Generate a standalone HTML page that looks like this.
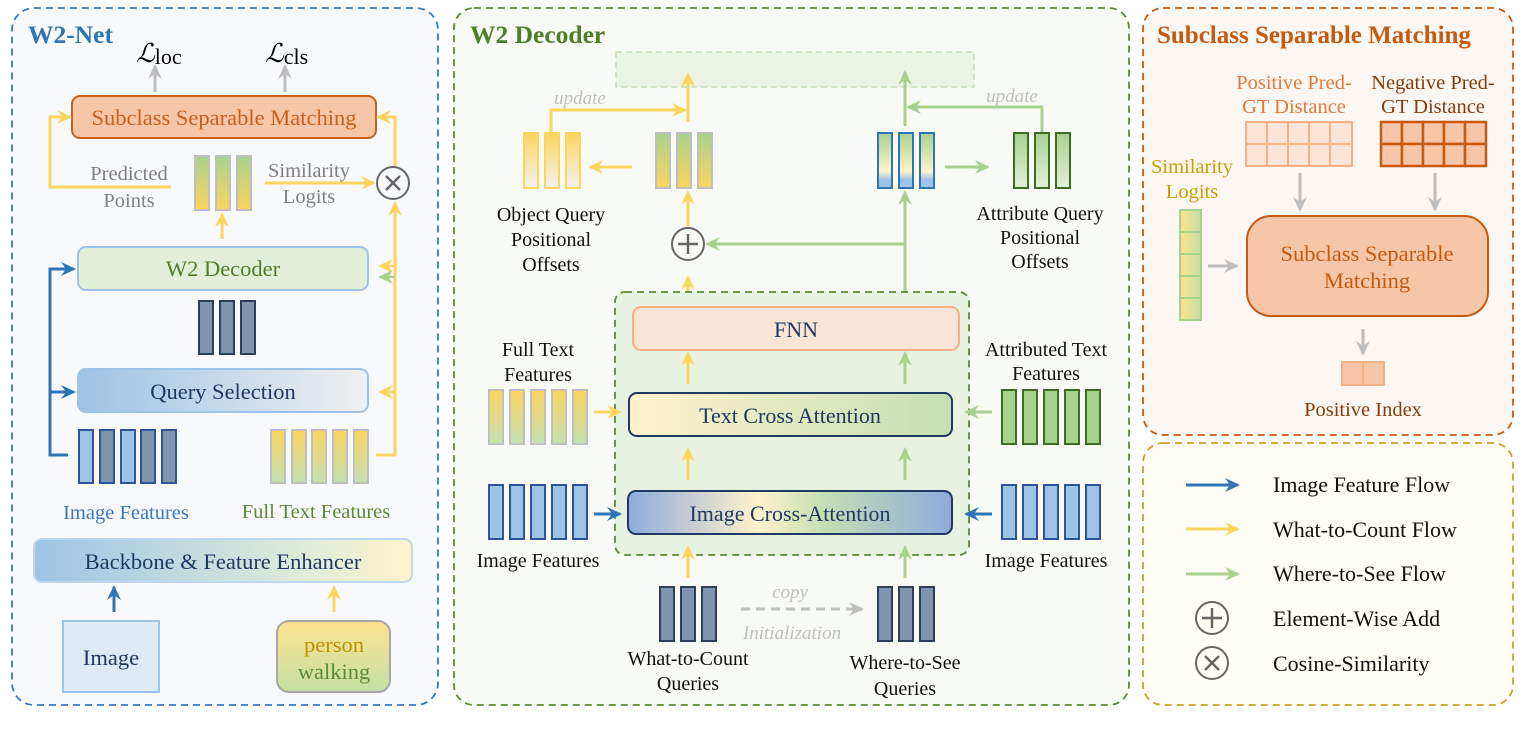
<!DOCTYPE html>
<html><head><meta charset="utf-8"><style>
html,body{margin:0;padding:0;background:#fff;}
svg{display:block;}
text{font-family:"Liberation Serif",serif;}
</style></head><body>
<svg width="1524" height="738" viewBox="0 0 1524 738" xmlns="http://www.w3.org/2000/svg">
<defs>
<marker id="mY" markerUnits="userSpaceOnUse" markerWidth="16" markerHeight="16" refX="13" refY="8" orient="auto"><path d="M0,1 L15,8 L0,15 L5,8 z" fill="#fcd55e"/></marker>
<marker id="mG" markerUnits="userSpaceOnUse" markerWidth="16" markerHeight="16" refX="13" refY="8" orient="auto"><path d="M0,1 L15,8 L0,15 L5,8 z" fill="#a9d18e"/></marker>
<marker id="mB" markerUnits="userSpaceOnUse" markerWidth="16" markerHeight="16" refX="13" refY="8" orient="auto"><path d="M0,1 L15,8 L0,15 L5,8 z" fill="#2e75b6"/></marker>
<marker id="mS" markerUnits="userSpaceOnUse" markerWidth="16" markerHeight="16" refX="13" refY="8" orient="auto"><path d="M0,1 L15,8 L0,15 L5,8 z" fill="#bdbdbd"/></marker>
<linearGradient id="gGY" x1="0" y1="0" x2="0" y2="1"><stop offset="0" stop-color="#a9d18e"/><stop offset="1" stop-color="#fcd55e"/></linearGradient>
<linearGradient id="gYG" x1="0" y1="0" x2="0" y2="1"><stop offset="0" stop-color="#fcd55e"/><stop offset="1" stop-color="#c5e0b3"/></linearGradient>
<linearGradient id="gYW" x1="0" y1="0" x2="0" y2="1"><stop offset="0" stop-color="#fcd55e"/><stop offset="1" stop-color="#f2f2f2"/></linearGradient>
<linearGradient id="gGW" x1="0" y1="0" x2="0" y2="1"><stop offset="0" stop-color="#a9d18e"/><stop offset="1" stop-color="#e2efd9"/></linearGradient>
<linearGradient id="gGYB" x1="0" y1="0" x2="0" y2="1"><stop offset="0" stop-color="#a9d18e"/><stop offset="0.7" stop-color="#fff2cc"/><stop offset="0.85" stop-color="#9dc3e6"/><stop offset="1" stop-color="#9dc3e6"/></linearGradient>
<linearGradient id="gQS" x1="0" y1="0" x2="1" y2="0"><stop offset="0" stop-color="#9dc3e6"/><stop offset="1" stop-color="#f0f0f0"/></linearGradient>
<linearGradient id="gBB" x1="0" y1="0" x2="1" y2="0"><stop offset="0" stop-color="#9dc3e6"/><stop offset="0.75" stop-color="#e2efd9"/><stop offset="1" stop-color="#fff2cc"/></linearGradient>
<linearGradient id="gPW" x1="0" y1="0" x2="0" y2="1"><stop offset="0" stop-color="#fde28e"/><stop offset="1" stop-color="#c5e0a5"/></linearGradient>
<linearGradient id="gTCA" x1="0" y1="0" x2="1" y2="0"><stop offset="0" stop-color="#fff2cc"/><stop offset="1" stop-color="#c5e0b3"/></linearGradient>
<linearGradient id="gICA" x1="0" y1="0" x2="1" y2="0"><stop offset="0" stop-color="#8faadc"/><stop offset="0.4" stop-color="#fff2cc"/><stop offset="0.6" stop-color="#c5e0b3"/><stop offset="1" stop-color="#8faadc"/></linearGradient>
<linearGradient id="gSL" x1="0" y1="0" x2="1" y2="0"><stop offset="0" stop-color="#fde28e"/><stop offset="1" stop-color="#c5e0a5"/></linearGradient>
</defs>

<!-- LEFT PANEL -->
<rect x="12" y="8" width="426" height="697" rx="22" fill="#f7f9fd" stroke="#3a78c0" stroke-width="1.8" stroke-dasharray="7,5"/>
<text x="28" y="43" font-size="25.5" font-weight="bold" fill="#2e75b6">W2-Net</text>
<text x="136" y="62" font-size="26" fill="#000" font-style="italic">ℒ<tspan font-size="22" font-style="normal" dy="2">loc</tspan></text>
<text x="265" y="62" font-size="26" fill="#000" font-style="italic">ℒ<tspan font-size="22" font-style="normal" dy="2">cls</tspan></text>
<line x1="155" y1="92" x2="155" y2="66" stroke="#bdbdbd" stroke-width="3" marker-end="url(#mS)"/>
<line x1="285" y1="92" x2="285" y2="66" stroke="#bdbdbd" stroke-width="3" marker-end="url(#mS)"/>
<rect x="72" y="96" width="304" height="42" rx="8" fill="#f7c6a8" stroke="#c8601f" stroke-width="2"/>
<text x="224" y="125" font-size="22.5" fill="#c8601f" text-anchor="middle">Subclass Separable Matching</text>
<polyline points="171,187 50,187 50,117 70,117" fill="none" stroke="#fcd55e" stroke-width="3" marker-end="url(#mY)"/>
<polyline points="395,167 395,117 378,117" fill="none" stroke="#fcd55e" stroke-width="3" marker-end="url(#mY)"/>
<text x="129" y="180" font-size="20.5" fill="#808080" text-anchor="middle">Predicted</text>
<text x="129" y="207" font-size="20.5" fill="#808080" text-anchor="middle">Points</text>
<g stroke="#bfbfbf" stroke-width="2" fill="url(#gGY)"><rect x="195" y="156" width="14" height="54"/><rect x="216" y="156" width="14" height="54"/><rect x="237" y="156" width="14" height="54"/></g>
<text x="309" y="177" font-size="20.5" fill="#808080" text-anchor="middle">Similarity</text>
<text x="309" y="203" font-size="20.5" fill="#808080" text-anchor="middle">Logits</text>
<line x1="265" y1="183" x2="374" y2="183" stroke="#fcd55e" stroke-width="3" marker-end="url(#mY)"/>
<circle cx="393" cy="183" r="16" fill="none" stroke="#666" stroke-width="2"/>
<path d="M386,176 L400,190 M400,176 L386,190" stroke="#666" stroke-width="2.5"/>
<line x1="222" y1="239" x2="222" y2="214" stroke="#fcd55e" stroke-width="3" marker-end="url(#mY)"/>
<line x1="395" y1="455" x2="395" y2="203" stroke="#fcd55e" stroke-width="3" marker-end="url(#mY)"/>
<rect x="78" y="247" width="290" height="43" rx="8" fill="#e2efd9" stroke="#9dc3e6" stroke-width="2"/>
<text x="223" y="276" font-size="22.5" fill="#4e7e2a" text-anchor="middle">W2 Decoder</text>
<line x1="395" y1="266" x2="380" y2="266" stroke="#fcd55e" stroke-width="2.5" marker-end="url(#mY)"/>
<line x1="395" y1="277" x2="380" y2="277" stroke="#a9d18e" stroke-width="2.5" marker-end="url(#mG)"/>
<polyline points="68,455 50,455 50,269 74,269" fill="none" stroke="#2e75b6" stroke-width="3" marker-end="url(#mB)"/>
<line x1="50" y1="392" x2="74" y2="392" stroke="#2e75b6" stroke-width="3" marker-end="url(#mB)"/>
<g stroke="#2d3e5a" stroke-width="2" fill="#8094ae"><rect x="199" y="301" width="14" height="53"/><rect x="220" y="301" width="14" height="53"/><rect x="241" y="301" width="14" height="53"/></g>
<rect x="78" y="369" width="290" height="43" rx="8" fill="url(#gQS)" stroke="#9dc3e6" stroke-width="2"/>
<text x="223" y="399" font-size="22.5" fill="#1f3864" text-anchor="middle">Query Selection</text>
<line x1="395" y1="392" x2="380" y2="392" stroke="#fcd55e" stroke-width="2.5" marker-end="url(#mY)"/>
<g stroke="#2e5597" stroke-width="2"><rect x="79" y="430" width="14" height="53" fill="#9dc3e6"/><rect x="100" y="430" width="14" height="53" fill="#8094ae"/><rect x="121" y="430" width="14" height="53" fill="#9dc3e6"/><rect x="141" y="430" width="14" height="53" fill="#8094ae"/><rect x="162" y="430" width="14" height="53" fill="#8094ae"/></g>
<g stroke="#bfbfbf" stroke-width="2" fill="url(#gYG)"><rect x="271" y="430" width="14" height="53"/><rect x="292" y="430" width="14" height="53"/><rect x="312" y="430" width="14" height="53"/><rect x="333" y="430" width="14" height="53"/><rect x="354" y="430" width="14" height="53"/></g>
<line x1="376" y1="455" x2="396" y2="455" stroke="#fcd55e" stroke-width="3"/>
<text x="126" y="519" font-size="20.5" fill="#3a78c0" text-anchor="middle">Image Features</text>
<text x="316" y="518" font-size="20.5" fill="#5b8a35" text-anchor="middle">Full Text Features</text>
<rect x="34" y="539" width="378" height="43" rx="8" fill="url(#gBB)" stroke="#bdd7ee" stroke-width="2"/>
<text x="223" y="569" font-size="22.5" fill="#1f3864" text-anchor="middle">Backbone &amp; Feature Enhancer</text>
<line x1="114" y1="612" x2="114" y2="587" stroke="#2e75b6" stroke-width="3" marker-end="url(#mB)"/>
<line x1="334" y1="612" x2="334" y2="587" stroke="#fcd55e" stroke-width="3" marker-end="url(#mY)"/>
<rect x="63" y="621" width="96" height="71" fill="#deebf7" stroke="#9dc3e6" stroke-width="2"/>
<text x="111" y="665" font-size="22.5" fill="#1f3864" text-anchor="middle">Image</text>
<rect x="277" y="621" width="113" height="71" rx="12" fill="url(#gPW)" stroke="#a6a6a6" stroke-width="2"/>
<text x="334" y="652" font-size="22.5" fill="#c09000" text-anchor="middle">person</text>
<text x="334" y="679" font-size="22.5" fill="#5b8a35" text-anchor="middle">walking</text>

<!-- MIDDLE PANEL -->
<rect x="454" y="8" width="675" height="697" rx="20" fill="#f8fbf5" stroke="#5b8a35" stroke-width="1.8" stroke-dasharray="7,5"/>
<text x="470" y="43" font-size="25.5" font-weight="bold" fill="#4e7e2a">W2 Decoder</text>
<rect x="616" y="52" width="358" height="35" fill="#eaf3e4" stroke="#c5e0b3" stroke-width="1.5" stroke-dasharray="6,4"/>
<line x1="688" y1="122" x2="688" y2="74" stroke="#fcd55e" stroke-width="3" marker-end="url(#mY)"/>
<polyline points="551,132 551,110 685,110" fill="none" stroke="#fcd55e" stroke-width="3" marker-end="url(#mY)"/>
<text x="580" y="104" font-size="19" fill="#bfbfbf" font-style="italic" text-anchor="middle">update</text>
<line x1="905" y1="126" x2="905" y2="72" stroke="#a9d18e" stroke-width="3" marker-end="url(#mG)"/>
<polyline points="1042,132 1042,107 908,107" fill="none" stroke="#a9d18e" stroke-width="3" marker-end="url(#mG)"/>
<text x="1012" y="102" font-size="19" fill="#bfbfbf" font-style="italic" text-anchor="middle">update</text>
<g stroke="#fcd55e" stroke-width="2" fill="url(#gYW)"><rect x="524" y="133" width="14" height="55"/><rect x="545" y="133" width="14" height="55"/><rect x="566" y="133" width="14" height="55"/></g>
<g stroke="#bfbfbf" stroke-width="2" fill="url(#gGY)"><rect x="656" y="133" width="14" height="55"/><rect x="677" y="133" width="14" height="55"/><rect x="698" y="133" width="14" height="55"/></g>
<line x1="632" y1="167" x2="590" y2="167" stroke="#fcd55e" stroke-width="3" marker-end="url(#mY)"/>
<g stroke="#2e75b6" stroke-width="2" fill="url(#gGYB)"><rect x="878" y="133" width="14" height="55"/><rect x="899" y="133" width="14" height="55"/><rect x="920" y="133" width="14" height="55"/></g>
<line x1="945" y1="167" x2="988" y2="167" stroke="#a9d18e" stroke-width="3" marker-end="url(#mG)"/>
<g stroke="#3b6e22" stroke-width="2" fill="url(#gGW)"><rect x="1014" y="133" width="14" height="55"/><rect x="1035" y="133" width="14" height="55"/><rect x="1056" y="133" width="14" height="55"/></g>
<g font-size="20" fill="#111" text-anchor="middle">
<text x="551" y="221">Object Query</text><text x="551" y="246">Positional</text><text x="551" y="271">Offsets</text>
<text x="1040" y="220">Attribute Query</text><text x="1040" y="244">Positional</text><text x="1040" y="268">Offsets</text>
</g>
<line x1="688" y1="226" x2="688" y2="192" stroke="#fcd55e" stroke-width="3" marker-end="url(#mY)"/>
<line x1="905" y1="298" x2="905" y2="192" stroke="#a9d18e" stroke-width="3" marker-end="url(#mG)"/>
<line x1="905" y1="244" x2="707" y2="244" stroke="#a9d18e" stroke-width="3" marker-end="url(#mG)"/>
<circle cx="688" cy="244" r="16" fill="none" stroke="#666" stroke-width="2"/>
<path d="M678,244 L698,244 M688,234 L688,254" stroke="#666" stroke-width="2.5"/>
<line x1="688" y1="304" x2="688" y2="277" stroke="#fcd55e" stroke-width="3" marker-end="url(#mY)"/>
<rect x="615" y="292" width="354" height="263" rx="10" fill="#e8f2e1" stroke="#5b8a35" stroke-width="1.8" stroke-dasharray="7,5"/>
<rect x="633" y="307" width="326" height="43" rx="8" fill="#fbe5d6" stroke="#f4b183" stroke-width="2"/>
<text x="796" y="337" font-size="22" fill="#1f3864" text-anchor="middle">FNN</text>
<line x1="688" y1="384" x2="688" y2="353" stroke="#fcd55e" stroke-width="3" marker-end="url(#mY)"/>
<line x1="905" y1="384" x2="905" y2="353" stroke="#a9d18e" stroke-width="3" marker-end="url(#mG)"/>
<rect x="629" y="393" width="323" height="43" rx="8" fill="url(#gTCA)" stroke="#1f3864" stroke-width="2"/>
<text x="790" y="423" font-size="22" fill="#1f3864" text-anchor="middle">Text Cross Attention</text>
<line x1="688" y1="480" x2="688" y2="449" stroke="#fcd55e" stroke-width="3" marker-end="url(#mY)"/>
<line x1="905" y1="480" x2="905" y2="449" stroke="#a9d18e" stroke-width="3" marker-end="url(#mG)"/>
<rect x="628" y="491" width="324" height="43" rx="8" fill="url(#gICA)" stroke="#1f3864" stroke-width="2"/>
<text x="790" y="521" font-size="22" fill="#1f3864" text-anchor="middle">Image Cross-Attention</text>
<line x1="688" y1="578" x2="688" y2="547" stroke="#fcd55e" stroke-width="3" marker-end="url(#mY)"/>
<line x1="905" y1="578" x2="905" y2="547" stroke="#a9d18e" stroke-width="3" marker-end="url(#mG)"/>
<g font-size="20" fill="#111" text-anchor="middle">
<text x="538" y="356">Full Text</text><text x="538" y="381">Features</text>
<text x="1046" y="356">Attributed Text</text><text x="1046" y="380">Features</text>
<text x="538" y="567">Image Features</text><text x="1046" y="567">Image Features</text>
<text x="688" y="665">What-to-Count</text><text x="688" y="690">Queries</text>
<text x="905" y="669">Where-to-See</text><text x="905" y="695">Queries</text>
</g>
<g stroke="#bfbfbf" stroke-width="2" fill="url(#gYG)"><rect x="489" y="390" width="14" height="54"/><rect x="510" y="390" width="14" height="54"/><rect x="531" y="390" width="14" height="54"/><rect x="552" y="390" width="14" height="54"/><rect x="573" y="390" width="14" height="54"/></g>
<line x1="594" y1="412" x2="620" y2="412" stroke="#fcd55e" stroke-width="3" marker-end="url(#mY)"/>
<g stroke="#3b6e22" stroke-width="2" fill="#a9d18e"><rect x="1002" y="390" width="14" height="54"/><rect x="1023" y="390" width="14" height="54"/><rect x="1044" y="390" width="14" height="54"/><rect x="1065" y="390" width="14" height="54"/><rect x="1086" y="390" width="14" height="54"/></g>
<line x1="992" y1="412" x2="966" y2="412" stroke="#a9d18e" stroke-width="3" marker-end="url(#mG)"/>
<g stroke="#2e5597" stroke-width="2" fill="#9dc3e6"><rect x="489" y="485" width="14" height="54"/><rect x="510" y="485" width="14" height="54"/><rect x="531" y="485" width="14" height="54"/><rect x="552" y="485" width="14" height="54"/><rect x="573" y="485" width="14" height="54"/>
<rect x="1002" y="485" width="14" height="54"/><rect x="1023" y="485" width="14" height="54"/><rect x="1044" y="485" width="14" height="54"/><rect x="1065" y="485" width="14" height="54"/><rect x="1086" y="485" width="14" height="54"/></g>
<line x1="594" y1="514" x2="620" y2="514" stroke="#2e75b6" stroke-width="3" marker-end="url(#mB)"/>
<line x1="992" y1="514" x2="966" y2="514" stroke="#2e75b6" stroke-width="3" marker-end="url(#mB)"/>
<g stroke="#2d3e5a" stroke-width="2" fill="#8094ae"><rect x="660" y="587" width="14" height="54"/><rect x="681" y="587" width="14" height="54"/><rect x="702" y="587" width="14" height="54"/>
<rect x="878" y="587" width="14" height="54"/><rect x="899" y="587" width="14" height="54"/><rect x="920" y="587" width="14" height="54"/></g>
<line x1="741" y1="609" x2="862" y2="609" stroke="#bfbfbf" stroke-width="3" stroke-dasharray="9,6" marker-end="url(#mS)"/>
<text x="790" y="598" font-size="19" fill="#bfbfbf" font-style="italic" text-anchor="middle">copy</text>
<text x="792" y="639" font-size="19" fill="#bfbfbf" font-style="italic" text-anchor="middle">Initialization</text>

<!-- RIGHT TOP PANEL -->
<rect x="1143" y="8" width="370" height="427" rx="20" fill="#fdf7f4" stroke="#c55a11" stroke-width="1.8" stroke-dasharray="7,5"/>
<text x="1157" y="43" font-size="25" font-weight="bold" fill="#c55a11">Subclass Separable Matching</text>
<text x="1294" y="89" font-size="20.5" fill="#e07a3a" text-anchor="middle">Positive Pred-</text>
<text x="1294" y="113" font-size="20.5" fill="#e07a3a" text-anchor="middle">GT Distance</text>
<text x="1433" y="89" font-size="20.5" fill="#843c0c" text-anchor="middle">Negative Pred-</text>
<text x="1433" y="113" font-size="20.5" fill="#843c0c" text-anchor="middle">GT Distance</text>
<g fill="#fbe5d6" stroke="#f4b183" stroke-width="2">
<rect x="1246" y="122" width="21" height="22"/><rect x="1267" y="122" width="21" height="22"/><rect x="1288" y="122" width="21" height="22"/><rect x="1309" y="122" width="21" height="22"/><rect x="1330" y="122" width="22" height="22"/>
<rect x="1246" y="144" width="21" height="22"/><rect x="1267" y="144" width="21" height="22"/><rect x="1288" y="144" width="21" height="22"/><rect x="1309" y="144" width="21" height="22"/><rect x="1330" y="144" width="22" height="22"/></g>
<g fill="#f7c6a8" stroke="#c55a11" stroke-width="2.5">
<rect x="1381" y="122" width="21" height="22"/><rect x="1402" y="122" width="21" height="22"/><rect x="1423" y="122" width="21" height="22"/><rect x="1444" y="122" width="21" height="22"/><rect x="1465" y="122" width="21" height="22"/>
<rect x="1381" y="144" width="21" height="22"/><rect x="1402" y="144" width="21" height="22"/><rect x="1423" y="144" width="21" height="22"/><rect x="1444" y="144" width="21" height="22"/><rect x="1465" y="144" width="21" height="22"/></g>
<line x1="1300" y1="173" x2="1300" y2="210" stroke="#bdbdbd" stroke-width="3" marker-end="url(#mS)"/>
<line x1="1435" y1="173" x2="1435" y2="210" stroke="#bdbdbd" stroke-width="3" marker-end="url(#mS)"/>
<text x="1192" y="173" font-size="20.5" fill="#c8a000" text-anchor="middle">Similarity</text>
<text x="1192" y="198" font-size="20.5" fill="#c8a000" text-anchor="middle">Logits</text>
<g fill="url(#gSL)" stroke="#a9d18e" stroke-width="2">
<rect x="1180" y="210" width="21" height="22"/><rect x="1180" y="232" width="21" height="22"/><rect x="1180" y="254" width="21" height="22"/><rect x="1180" y="276" width="21" height="22"/><rect x="1180" y="298" width="21" height="22"/></g>
<line x1="1208" y1="266" x2="1237" y2="266" stroke="#bdbdbd" stroke-width="3" marker-end="url(#mS)"/>
<rect x="1247" y="216" width="241" height="100" rx="24" fill="#f7c6a8" stroke="#c55a11" stroke-width="2"/>
<text x="1367" y="261" font-size="22.5" fill="#c55a11" text-anchor="middle">Subclass Separable</text>
<text x="1367" y="288" font-size="22.5" fill="#c55a11" text-anchor="middle">Matching</text>
<line x1="1363" y1="329" x2="1363" y2="354" stroke="#bdbdbd" stroke-width="3" marker-end="url(#mS)"/>
<g fill="#f7c6a8" stroke="#f4b183" stroke-width="2"><rect x="1342" y="362" width="21" height="23"/><rect x="1363" y="362" width="21" height="23"/></g>
<text x="1363" y="416" font-size="20.5" fill="#843c0c" text-anchor="middle">Positive Index</text>

<!-- LEGEND -->
<rect x="1143" y="443" width="370" height="262" rx="20" fill="#fffdf5" stroke="#c9a227" stroke-width="1.8" stroke-dasharray="7,5"/>
<line x1="1186" y1="485" x2="1238" y2="485" stroke="#2e75b6" stroke-width="3" marker-end="url(#mB)"/>
<line x1="1186" y1="529" x2="1238" y2="529" stroke="#fcd55e" stroke-width="3" marker-end="url(#mY)"/>
<line x1="1186" y1="574" x2="1238" y2="574" stroke="#a9d18e" stroke-width="3" marker-end="url(#mG)"/>
<circle cx="1212" cy="618" r="16" fill="none" stroke="#666" stroke-width="2"/>
<path d="M1202,618 L1222,618 M1212,608 L1212,628" stroke="#666" stroke-width="2.5"/>
<circle cx="1212" cy="663" r="16" fill="none" stroke="#666" stroke-width="2"/>
<path d="M1205,656 L1219,670 M1219,656 L1205,670" stroke="#666" stroke-width="2.5"/>
<g font-size="22" fill="#111">
<text x="1273" y="492">Image Feature  Flow</text>
<text x="1273" y="537">What-to-Count Flow</text>
<text x="1273" y="581">Where-to-See Flow</text>
<text x="1273" y="626">Element-Wise Add</text>
<text x="1273" y="671">Cosine-Similarity</text>
</g>
</svg>
</body></html>
